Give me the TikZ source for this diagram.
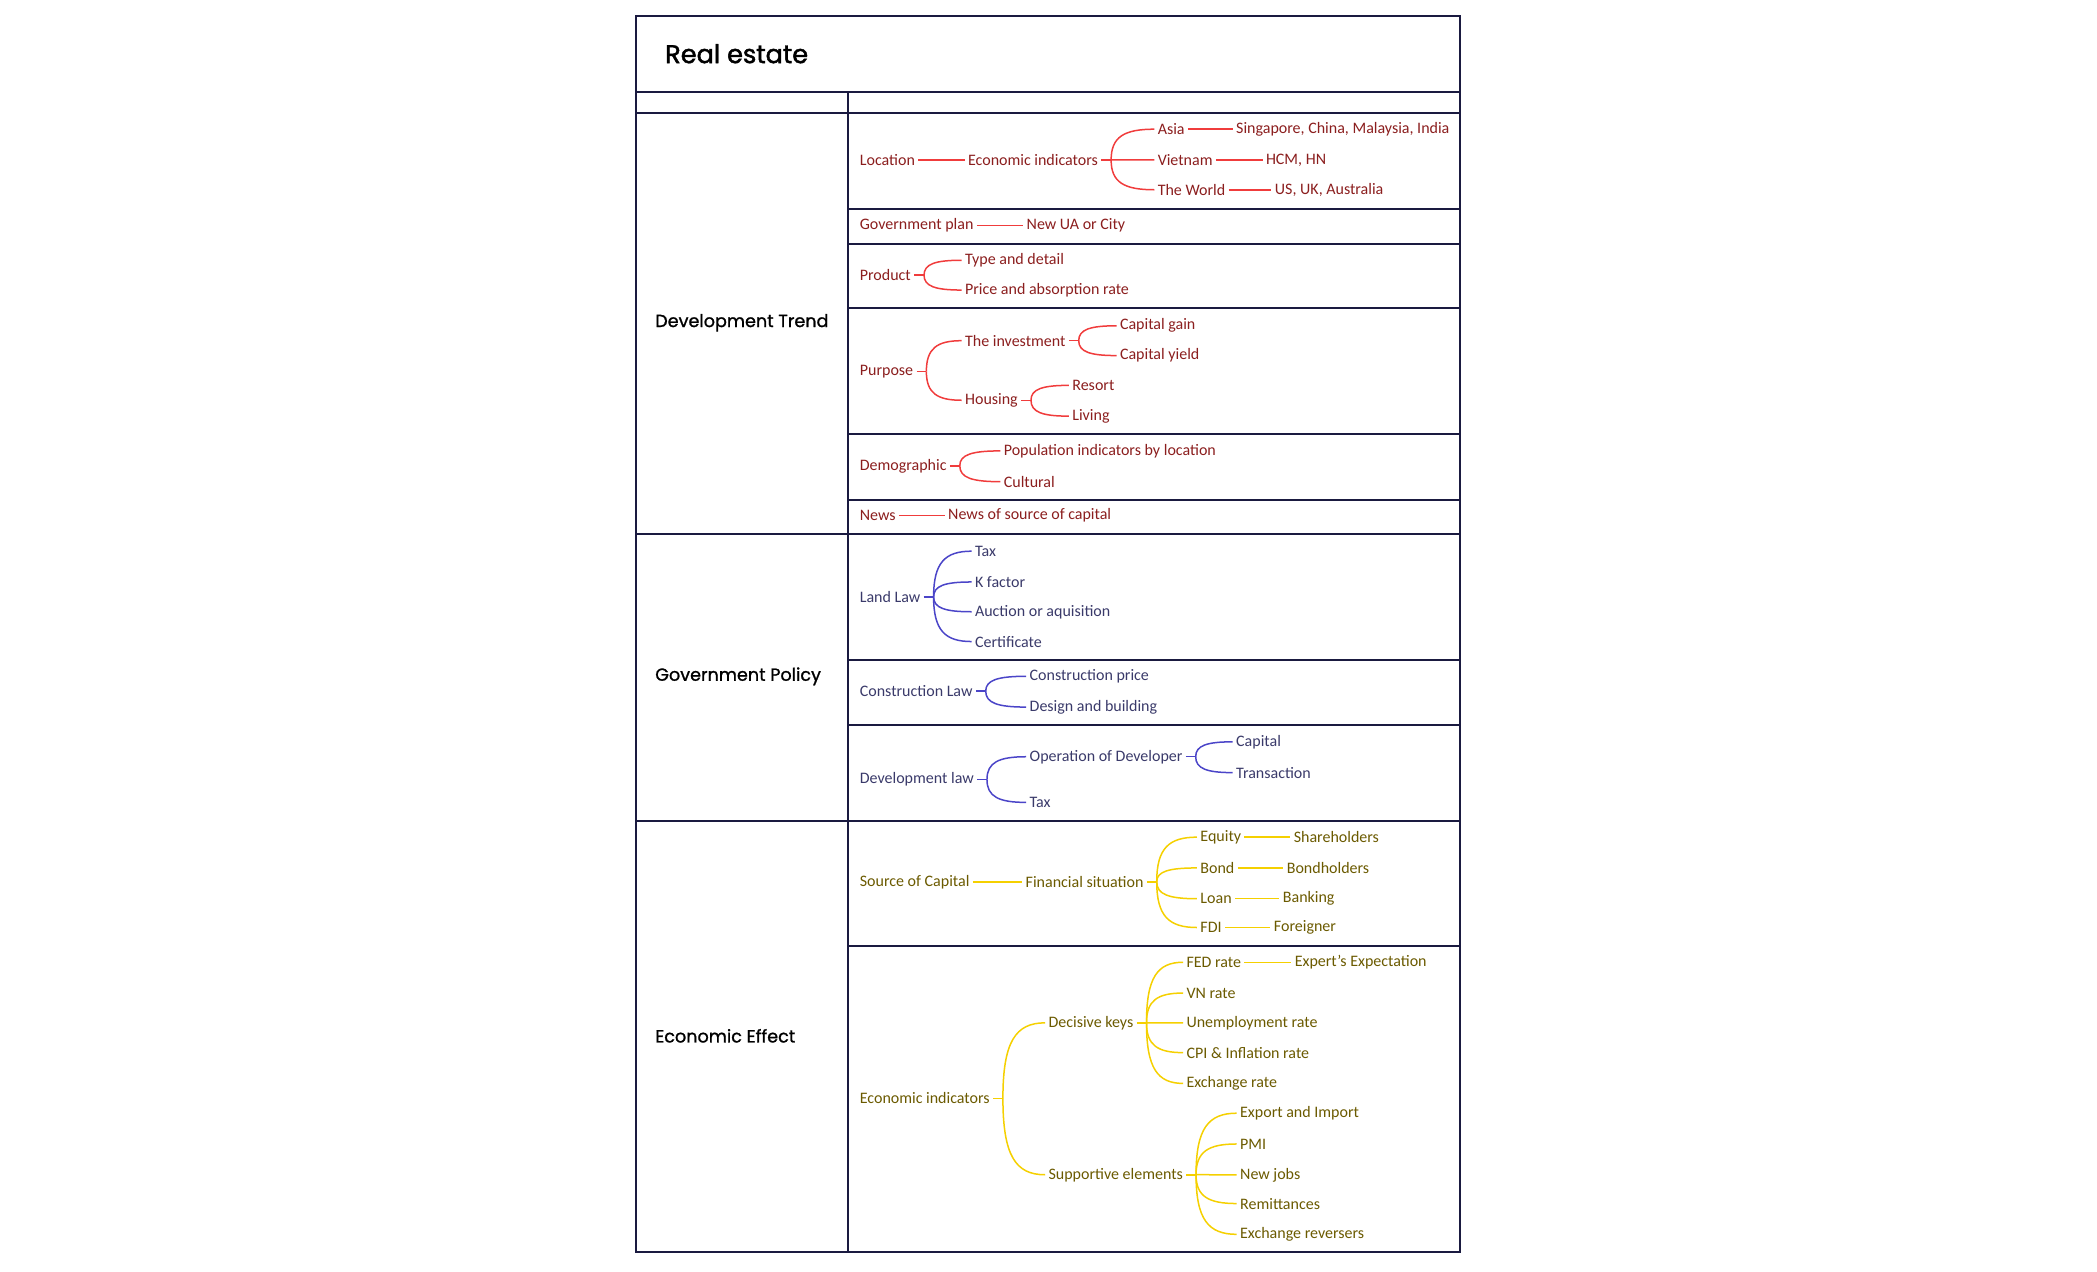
\documentclass[tikz,border=0pt]{standalone}
\usepackage{fontspec}
\setmainfont{Carlito}
\newfontfamily\headfont[FakeBold=1.2]{Poppins}
\newfontfamily\titlefont[FakeBold=1.8]{Poppins}
\usetikzlibrary{calc}
\definecolor{bord}{HTML}{1A1A40}
\definecolor{rl}{HTML}{F03C3C}\definecolor{rt}{HTML}{8B1E1E}
\definecolor{bl}{HTML}{4B45C8}\definecolor{bt}{HTML}{3A3A6A}
\definecolor{yl}{HTML}{F5D000}\definecolor{yt}{HTML}{6B5A00}
\tikzset{
 lf/.style={anchor=west,inner sep=1.5pt,font=\fontsize{8}{9}\selectfont},
 hd/.style={anchor=west,inner sep=0pt,font=\headfont\fontsize{8.8}{10}\selectfont},
 conn/.style={line width=0.75pt},
}
\newcommand\link[2]{\draw[conn] (#1.east) -- (#2.west);}
\newcommand\fan[2]{\draw[conn] (#1.east) -- ++(10,0) coordinate (#1s);
 \foreach \c in {#2}{\draw[conn] (#1s) .. controls ($(#1s)!0.75!(#1s|-\c.west)$) and ($(#1s|-\c.west)!0.3!(\c.west)$) .. (\c.west);}}
\begin{document}
\begin{tikzpicture}[x=0.5pt,y=-0.5pt]
\useasboundingbox (0,0) rectangle (2097,1272);
\begin{scope}[shift={(636,16)},scale=0.993,shift={(-638,-16)}]
% table
\begin{scope}[draw=bord,line width=1pt]
\draw (638,16) rectangle (1468,1261);
\draw (638,93) -- (1468,93);
\draw (638,114) -- (1468,114);
\draw (851,93) -- (851,1261);
\foreach \y in {210,246,310,437,503,665,730,953} \draw (851,\y) -- (1468,\y);
\foreach \y in {538,827} \draw (638,\y) -- (1468,\y);
\end{scope}
\node[hd,font=\titlefont\fontsize{12.8}{14}\selectfont] (title) at (667,54) {Real estate};
\node[hd] (h1) at (657,325) {Development Trend};
\node[hd] (h2) at (657,681) {Government Policy};
\node[hd] (h3) at (657,1043) {Economic Effect};
% development trend
\begin{scope}[every node/.style={lf,text=rt},conn/.append style={draw=rl}]
\node (loc) at (860,161) {Location};
\node (ei) at (969,161) {Economic indicators};
\node (asia) at (1160,130) {Asia};
\node (sg) at (1239,130) {Singapore, China, Malaysia, India};
\node (vn) at (1160,161) {Vietnam};
\node (hcm) at (1269,161) {HCM, HN};
\node (wo) at (1160,191) {The World};
\node (us) at (1278,191) {US, UK, Australia};
\link{loc}{ei}\fan{ei}{asia,vn,wo}\link{asia}{sg}\link{vn}{hcm}\link{wo}{us}
\node (gp) at (860,227) {Government plan};
\node (nua) at (1028,227) {New UA or City};
\link{gp}{nua}
\node (pr) at (860,277) {Product};
\node (td) at (966,262) {Type and detail};
\node (pa) at (966,292) {Price and absorption rate};
\fan{pr}{td,pa}
\node (pu) at (860,374) {Purpose};
\node (inv) at (966,343) {The investment};
\node (cg) at (1122,328) {Capital gain};
\node (cy) at (1122,358) {Capital yield};
\node (ho) at (966,403) {Housing};
\node (re) at (1074,388) {Resort};
\node (li) at (1074,419) {Living};
\fan{pu}{inv,ho}\fan{inv}{cg,cy}\fan{ho}{re,li}
\node (de) at (860,469) {Demographic};
\node (pop) at (1005,454) {Population indicators by location};
\node (cu) at (1005,485) {Cultural};
\fan{de}{pop,cu}
\node (ne) at (860,519) {News};
\node (nsc) at (949,519) {News of source of capital};
\link{ne}{nsc}
\end{scope}
% government policy
\begin{scope}[every node/.style={lf,text=bt},conn/.append style={draw=bl}]
\node (ll) at (860,601) {Land Law};
\node (tax1) at (976,555) {Tax};
\node (kf) at (976,586) {K factor};
\node (aa) at (976,616) {Auction or aquisition};
\node (ce) at (976,646) {Certificate};
\fan{ll}{tax1,kf,aa,ce}
\node (cl) at (860,696) {Construction Law};
\node (cp) at (1031,681) {Construction price};
\node (db) at (1031,712) {Design and building};
\fan{cl}{cp,db}
\node (dl) at (860,785) {Development law};
\node (od) at (1031,762) {Operation of Developer};
\node (ca) at (1239,747) {Capital};
\node (tr) at (1239,778) {Transaction};
\node (tax2) at (1031,808) {Tax};
\fan{dl}{od,tax2}\fan{od}{ca,tr}
\end{scope}
% economic effect
\begin{scope}[every node/.style={lf,text=yt},conn/.append style={draw=yl}]
\node (sc) at (860,888) {Source of Capital};
\node (fs) at (1027,888) {Financial situation};
\node (eq) at (1203,843) {Equity};
\node (sh) at (1297,843) {Shareholders};
\node (bo) at (1203,874) {Bond};
\node (bh) at (1290,874) {Bondholders};
\node (lo) at (1203,905) {Loan};
\node (ba) at (1286,905) {Banking};
\node (fdi) at (1203,934) {FDI};
\node (fo) at (1277,934) {Foreigner};
\link{sc}{fs}\fan{fs}{eq,bo,lo,fdi}\link{eq}{sh}\link{bo}{bh}\link{lo}{ba}\link{fdi}{fo}
\node (ei2) at (860,1106) {Economic indicators};
\node (dk) at (1050,1030) {Decisive keys};
\node (fed) at (1189,969) {FED rate};
\node (ee) at (1298,969) {Expert's Expectation};
\node (vnr) at (1189,1000) {VN rate};
\node (ur) at (1189,1030) {Unemployment rate};
\node (cpi) at (1189,1060) {CPI \& Inflation rate};
\node (er) at (1189,1091) {Exchange rate};
\node (se) at (1050,1183) {Supportive elements};
\node (exi) at (1243,1121) {Export and Import};
\node (pmi) at (1243,1152) {PMI};
\node (nj) at (1243,1183) {New jobs};
\node (rem) at (1243,1212) {Remittances};
\node (exr) at (1243,1243) {Exchange reversers};
\fan{ei2}{dk,se}\fan{dk}{fed,vnr,ur,cpi,er}\link{fed}{ee}\fan{se}{exi,pmi,nj,rem,exr}
\end{scope}
\end{scope}
\end{tikzpicture}
\end{document}
